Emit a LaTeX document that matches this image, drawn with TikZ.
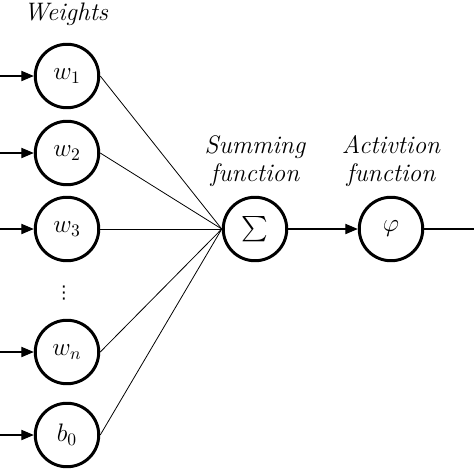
\documentclass[tikz,border=0pt]{standalone}
\usepackage{amsmath,amssymb}
\usepackage{fontspec}
\newfontfamily\symfont{DejaVu Sans}
\usepackage{tikz}
\usetikzlibrary{arrows}
\tikzstyle{vertex}=[circle,draw,line width=1.7pt,minimum size=1.27cm,inner sep=0pt,font=\Large]
\tikzstyle{edge} = [draw,line width=0.45pt]
\tikzstyle{feed} = [draw,line width=0.6pt,-triangle 45]
\tikzstyle{caption} = [align=center,font=\Large\itshape,inner sep=0pt]

\begin{document}
\begin{tikzpicture}[x=0.02cm,y=-0.02cm]
    \useasboundingbox (0,0) rectangle (474,474);
    \foreach \pos/\name/\lbl in {{(67,76)/w1/$w_1$}, {(67,153)/w2/$w_2$}, {(67,229)/w3/$w_3$}, {(67,352)/wn/$w_n$}, {(67,435)/b0/$b_0$}}
        \node[vertex] (\name) at \pos {\lbl};
    \node[vertex] (sum) at (255,229) {$\sum$};
    \node[vertex] (phi) at (391,229) {$\varphi$};
    \node[font=\symfont] (dots) at (64,293) {⋮};
    \node[caption] (wlbl) at (66,14) {Weights};
    \node[caption] (slbl) at (255,161) {Summing\\[-2pt]function};
    \node[caption] (albl) at (391,161) {Activtion\\[-2pt]function};
    \foreach \name/\y in {w1/76, w2/153, w3/229, wn/352, b0/435} {
        \coordinate (in\name) at (0,\y);
        \path[feed] (in\name) -- (\name);
        \path[edge] (\name.east) -- (sum.west);
    }
    \coordinate (out) at (474,229);
    \path[feed] (sum) -- (phi);
    \path[draw,line width=0.6pt] (phi) -- (out);
\end{tikzpicture}
\end{document}
